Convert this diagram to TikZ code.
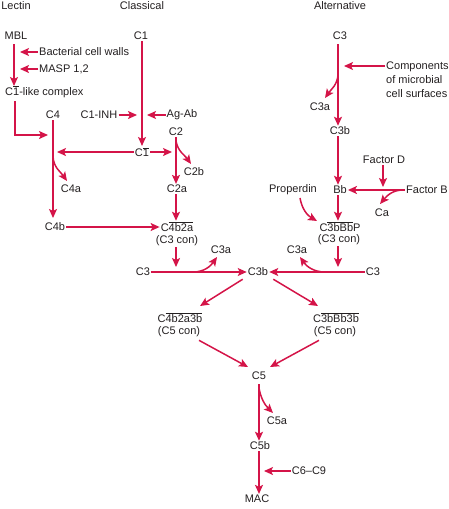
\documentclass[tikz,border=0pt]{standalone}
\usepackage{fontspec}
\setmainfont{Liberation Sans}
\usetikzlibrary{arrows.meta,calc}
\definecolor{cr}{RGB}{212,20,72}
\definecolor{tx}{RGB}{35,31,32}
\newcommand{\ovl}[1]{$\overline{\hbox{#1}}$}
\tikzset{
  lbl/.style={font=\fontsize{11}{13}\selectfont, inner sep=1pt, text=tx},
  arr/.style={draw=cr, line width=1.5pt, -{Stealth[length=9pt,width=8pt,inset=2pt]}}
}
\begin{document}
\begin{tikzpicture}[x=1pt,y=-1pt]
\useasboundingbox (0,0) rectangle (449,509);
% headers
\node[lbl] (lectin) at (16,6) {Lectin};
\node[lbl] (classical) at (142,6) {Classical};
\node[lbl] (alternative) at (340,6) {Alternative};
% lectin pathway
\node[lbl] (mbl) at (16,36) {MBL};
\node[lbl,anchor=west] (bcw) at (38,52) {Bacterial cell walls};
\node[lbl,anchor=west] (masp) at (38,69) {MASP 1,2};
\node[lbl,anchor=west] (c1like) at (4,92) {C\ovl{1}-like complex};
\coordinate (mblb) at (14,44);
\coordinate (mble) at (14,86);
\draw[arr] (mblb) -- (mble);
\draw[arr] (bcw.west) -- ++(-18,0);
\draw[arr] (masp.west) -- ++(-18,0);
\node[lbl] (c4) at (53,115) {C4};
\node[lbl] (c4a) at (71,189) {C4a};
\node[lbl] (c4b) at (55,227) {C4b};
\coordinate (c1lk) at (15,101);
\coordinate (j1) at (48,135);
\draw[arr] (c1lk) |- (j1);
\coordinate (c4e) at (53,218);
\draw[arr] (c4.south) -- (c4e);
\draw[arr] (53,157) to[out=-85,in=125] (67,181);
% classical pathway
\node[lbl] (c1) at (141,36) {C1};
\node[lbl] (c1inh) at (99,115) {C1-INH};
\node[lbl] (agab) at (182,115) {Ag-Ab};
\node[lbl] (c1bar) at (142,152) {C\ovl{1}};
\draw[arr] (c1bar |- c1.south) -- (c1bar.north);
\coordinate (c1inhe) at (137,115);
\coordinate (agabe) at (147,115);
\draw[arr] (c1inh.east) -- (c1inhe);
\draw[arr] (agab.west) -- (agabe);
\coordinate (c1l) at (57,152);
\coordinate (c1r) at (172,152);
\draw[arr] (c1bar.west) -- (c1l);
\draw[arr] (c1bar.east) -- (c1r);
\node[lbl] (c2) at (176,132) {C2};
\node[lbl] (c2b) at (194,172) {C2b};
\node[lbl] (c2a) at (177,189) {C2a};
\draw[arr] (c2.south) -- (c2 |- c2a.north);
\draw[arr] (176,141) to[out=-80,in=125] (191,164);
\node[lbl] (c4b2a) at (177,227) {C\ovl{4b2a}};
\node[lbl] (c3con1) at (177,241) {(C3 con)};
\draw[arr] (c2a.south -| c2) -- (c2 |- c4b2a.north);
\draw[arr] (c4b.east) -- (c4b2a.west);
% alternative pathway
\node[lbl] (c3alt) at (340,36) {C3};
\node[lbl,anchor=west,align=left,font=\fontsize{11}{14}\selectfont] (comp) at (385,80) {Components\\of microbial\\cell surfaces};
\node[lbl] (c3aalt) at (320,107) {C3a};
\node[lbl] (c3balt) at (340,131) {C3b};
\coordinate (c3t) at (338,44);
\draw[arr] (c3t) -- (c3t |- c3balt.north);
\draw[arr] ([yshift=14pt]comp.west) -- ++(-41,0);
\draw[arr] (338,75) to[out=-95,in=55] (325,98);
\node[lbl] (factord) at (384,160) {Factor D};
\node[lbl] (bb) at (340,190) {Bb};
\node[lbl] (factorb) at (427,190) {Factor B};
\node[lbl] (properdin) at (293,190) {Properdin};
\node[lbl] (ca) at (382,213) {Ca};
\draw[arr] (c3t |- c3balt.south) -- (c3t |- bb.north);
\draw[arr] (factorb.west) -- (bb.east);
\coordinate (fdend) at (383,187);
\draw[arr] (factord.south -| fdend) -- (fdend);
\draw[arr] (403,190) to[out=180,in=50] (380,204);
\node[lbl] (c3bbbp) at (340,227) {C\ovl{3bBb}P};
\node[lbl] (c3con2) at (339,240) {(C3 con)};
\draw[arr] (c3t |- bb.south) -- (c3t |- c3bbbp.north);
\draw[arr] (300,198) to[out=-80,in=150] (317,221);
% C3 convertase row
\node[lbl] (c3l) at (143,272) {C3};
\node[lbl] (c3b) at (258,272) {C3b};
\node[lbl] (c3r) at (373,272) {C3};
\node[lbl] (c3al) at (221,250) {C3a};
\node[lbl] (c3ar) at (297,250) {C3a};
\draw[arr] (c3l.east) -- (c3b.west);
\draw[arr] (c3r.west) -- (c3b.east);
\coordinate (v1) at (176,267);
\coordinate (v2) at (338,267);
\draw[arr] (c3con1.south -| v1) -- (v1);
\draw[arr] (c3con2.south -| v2) -- (v2);
\draw[arr] (193,272) to[out=0,in=-125] (217,257);
\draw[arr] (325,272) to[out=180,in=-55] (300,257);
% C5 convertases
\node[lbl] (c4b2a3b) at (180,318) {C\ovl{4b2a3b}};
\node[lbl] (c5con1) at (179,332) {(C5 con)};
\node[lbl] (c3bbb3b) at (336,318) {C\ovl{3bBb3b}};
\node[lbl] (c5con2) at (335,332) {(C5 con)};
\coordinate (e1) at (200,306);
\coordinate (e2) at (318,306);
\draw[arr] ([xshift=-4pt,yshift=-2pt]c3b.south west) -- (e1);
\draw[arr] ([xshift=4pt,yshift=-2pt]c3b.south east) -- (e2);
% C5 and MAC
\node[lbl] (c5) at (259,376) {C5};
\node[lbl] (c5a) at (277,421) {C5a};
\node[lbl] (c5b) at (260,446) {C5b};
\node[lbl] (mac) at (257,499) {MAC};
\node[lbl] (c6c9) at (309,471) {C6--C9};
\coordinate (f1) at (248,367);
\coordinate (f2) at (270,367);
\draw[arr] ([xshift=20pt,yshift=-2pt]c5con1.south) -- (f1);
\draw[arr] ([xshift=-16pt,yshift=-2pt]c5con2.south) -- (f2);
\coordinate (c5x) at (259,384);
\draw[arr] (c5x) -- (c5x |- c5b.north);
\draw[arr] (259,388) to[out=-80,in=135] (273,413);
\draw[arr] (c5x |- c5b.south) -- (c5x |- mac.north);
\coordinate (c6e) at (264,471);
\draw[arr] (c6c9.west) -- (c6e);
\end{tikzpicture}
\end{document}
